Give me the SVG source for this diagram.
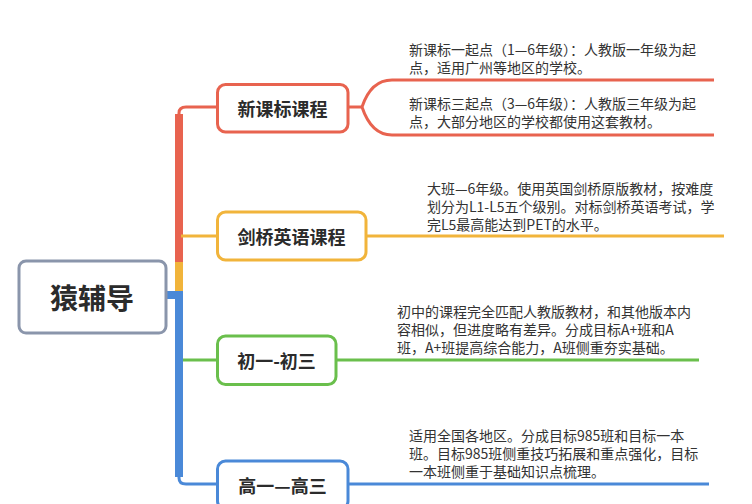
<svg xmlns="http://www.w3.org/2000/svg" width="752" height="504" viewBox="0 0 752 504">
<style>
.node{fill:#fff;stroke-width:3}
.lbl{font-family:"Noto Sans CJK SC","Noto Sans",sans-serif;font-weight:bold;font-size:18px;fill:#2b2b2b;text-anchor:middle;dominant-baseline:central}
.txt{font-family:"Noto Sans CJK SC","Noto Sans",sans-serif;font-size:14px;fill:#333}
.ln{fill:none;stroke-width:3;stroke-linecap:butt}
.red{stroke:#e8634f}.org{stroke:#f1b43b}.grn{stroke:#6abf4c}.blu{stroke:#4a89d8}
</style>
<rect width="752" height="504" fill="#fff"/>
<g id="connectors">
  <path d="M179,262 V114" stroke="#e8634f" stroke-width="8" fill="none"/>
  <path d="M179,118 V113 Q179,107 186,107 H217" class="ln red" stroke-width="4"/>
  <path d="M179,291 V262" stroke="#f1b43b" stroke-width="8" fill="none"/>
  <path d="M181,236 H217" class="ln org"/>
  <rect x="166" y="291" width="17" height="8" fill="#4a89d8"/>
  <path d="M179,291 V477" stroke="#4a89d8" stroke-width="8" fill="none"/>
  <path d="M179,474 V478 Q179,484 186,484 H217" class="ln blu" stroke-width="4"/>
  <path d="M183,360 H217" class="ln grn"/>
  <path d="M348,107 H362" class="ln red"/>
  <path d="M714,80 H392 C374,80 366,95 362,107 C366,119 374,135 392,135 H714" class="ln red"/>
  <path d="M366,236 H724" class="ln org"/>
  <path d="M336,360 H699" class="ln grn"/>
  <path d="M348,484 H709" class="ln blu"/>
</g>
<g id="root">
  <rect x="19" y="261" width="147" height="72" rx="7" class="node" stroke="#8a95ab"/>
  <text x="92" y="297" class="lbl" style="font-size:28px">猿辅导</text>
</g>
<g id="n-xinkebiao">
  <rect x="217.5" y="84.5" width="130.5" height="47.5" rx="8" class="node red"/>
  <text x="282.5" y="108" class="lbl">新课标课程</text>
</g>
<g id="n-jianqiao">
  <rect x="217.5" y="212" width="148.5" height="48" rx="8" class="node org"/>
  <text x="291.5" y="236" class="lbl">剑桥英语课程</text>
</g>
<g id="n-chuzhong">
  <rect x="217.5" y="336" width="118.5" height="48.5" rx="8" class="node grn"/>
  <text x="276.5" y="360" class="lbl">初一-初三</text>
</g>
<g id="n-gaozhong">
  <rect x="217.5" y="461" width="130.5" height="48" rx="8" class="node blu"/>
  <text x="282.5" y="485" class="lbl">高一—高三</text>
</g>
<g id="t-1">
  <text class="txt" x="409" y="55"><tspan x="409">新课标一起点（1—6年级）：人教版一年级为起</tspan><tspan x="409" dy="18">点，适用广州等地区的学校。</tspan></text>
</g>
<g id="t-2">
  <text class="txt" x="409" y="109"><tspan x="409">新课标三起点（3—6年级）：人教版三年级为起</tspan><tspan x="409" dy="18">点，大部分地区的学校都使用这套教材。</tspan></text>
</g>
<g id="t-3">
  <text class="txt" x="427" y="194"><tspan x="427">大班—6年级。使用英国剑桥原版教材，按难度</tspan><tspan x="427" dy="18">划分为L1-L5五个级别。对标剑桥英语考试，学</tspan><tspan x="427" dy="18">完L5最高能达到PET的水平。</tspan></text>
</g>
<g id="t-4">
  <text class="txt" x="397" y="317"><tspan x="397">初中的课程完全匹配人教版教材，和其他版本内</tspan><tspan x="397" dy="18">容相似，但进度略有差异。分成目标A+班和A</tspan><tspan x="397" dy="18">班，A+班提高综合能力，A班侧重夯实基础。</tspan></text>
</g>
<g id="t-5">
  <text class="txt" x="409" y="441"><tspan x="409">适用全国各地区。分成目标985班和目标一本</tspan><tspan x="409" dy="18">班。目标985班侧重技巧拓展和重点强化，目标</tspan><tspan x="409" dy="18">一本班侧重于基础知识点梳理。</tspan></text>
</g>
</svg>
